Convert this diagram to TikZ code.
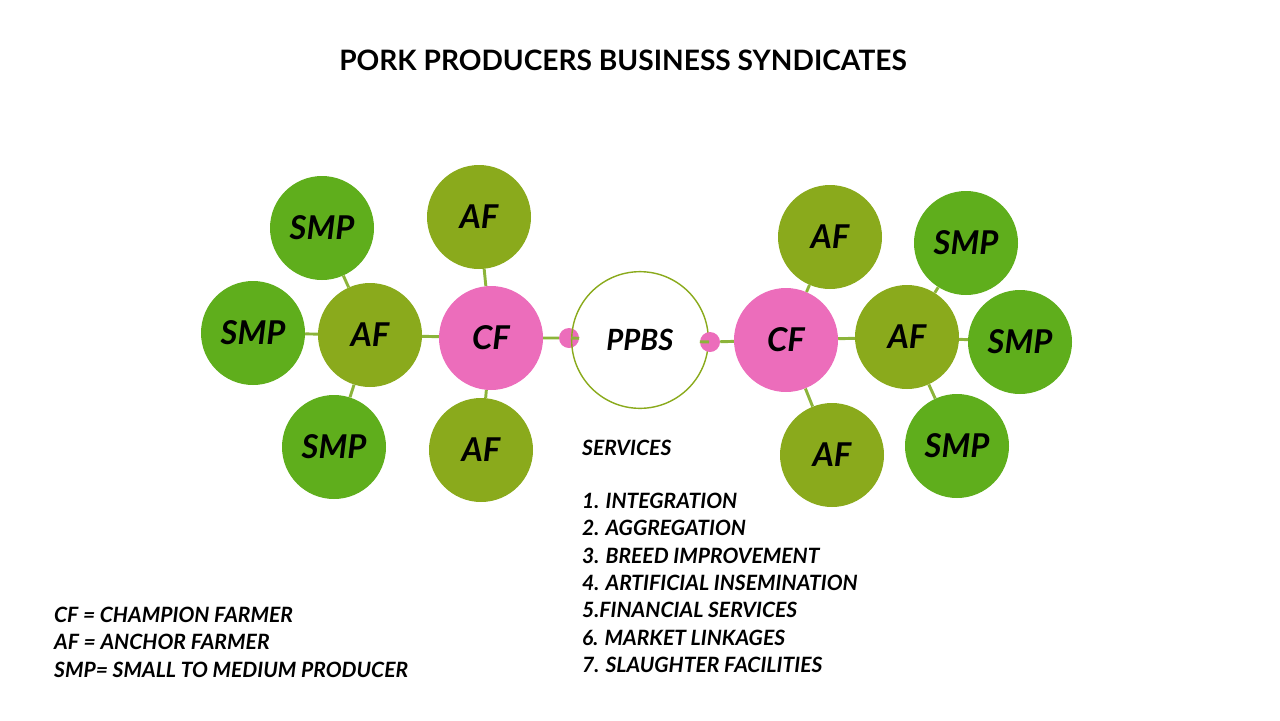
\documentclass[tikz,border=0pt]{standalone}
\usepackage{fontspec}
\setmainfont{Lato}
\definecolor{smp}{HTML}{5FAE1C}
\definecolor{af}{HTML}{8AAA1C}
\definecolor{cf}{HTML}{EC6DBB}
\definecolor{ln}{HTML}{8CB43A}
\begin{document}
\begin{tikzpicture}[x=0.03cm,y=-0.03cm,
 ball/.style={circle,minimum size=3.12cm,inner sep=0pt,font=\fontsize{28}{30}\selectfont\bfseries\itshape},
 smpn/.style={ball,fill=smp},afn/.style={ball,fill=af},cfn/.style={ball,fill=cf},
 dotn/.style={circle,fill=cf,minimum size=0.6cm,inner sep=0pt},
 link/.style={ln,line width=2.5pt},
 lst/.style={anchor=west,font=\fontsize{18}{23.3}\selectfont\bfseries\itshape,align=left}]
\useasboundingbox (0,0) rectangle (1280,720);
\node[font=\fontsize{24}{26}\selectfont\bfseries] (title) at (623,60) {PORK PRODUCERS BUSINESS SYNDICATES};
\node[smpn] (ls1) at (322,228) {SMP};
\node[smpn] (ls2) at (253,333) {SMP};
\node[smpn] (ls3) at (334,447) {SMP};
\node[afn] (la) at (370,335) {AF};
\node[afn] (lat) at (479,217) {AF};
\node[afn] (lab) at (481,450) {AF};
\node[cfn] (lc) at (491,338) {CF};
\node[dotn] (d1) at (569,338) {};
\node[circle,minimum size=4.1cm,inner sep=0pt,draw=af,line width=1.2pt,font=\fontsize{25}{27}\selectfont\bfseries\itshape] (pp) at (640,340) {PPBS};
\node[dotn] (d2) at (710,342) {};
\node[cfn] (rc) at (786,340) {CF};
\node[afn] (rat) at (830,237) {AF};
\node[afn] (rab) at (832,455) {AF};
\node[afn] (ra) at (907,337) {AF};
\node[smpn] (rs1) at (966,243) {SMP};
\node[smpn] (rs2) at (1020,342) {SMP};
\node[smpn] (rs3) at (957,446) {SMP};
\draw[link] (ls1)--(la) (ls2)--(la) (ls3)--(la) (la)--(lc) (lc)--(lat) (lc)--(lab) (lc)--(d1) (d1)--(pp)
 (pp)--(d2) (d2)--(rc) (rc)--(rat) (rc)--(rab) (rc)--(ra) (ra)--(rs1) (ra)--(rs2) (ra)--(rs3);
\node[lst] (svc) at (578,448) {SERVICES};
\node[lst,anchor=north west] (list) at (578,489) {1. INTEGRATION\\2. AGGREGATION\\3. BREED IMPROVEMENT\\4. ARTIFICIAL INSEMINATION\\5.FINANCIAL SERVICES\\6. MARKET LINKAGES\\7. SLAUGHTER FACILITIES};
\node[lst,anchor=north west] (leg) at (50,603) {CF = CHAMPION FARMER\\AF = ANCHOR FARMER\\SMP= SMALL TO MEDIUM PRODUCER};
\end{tikzpicture}
\end{document}
